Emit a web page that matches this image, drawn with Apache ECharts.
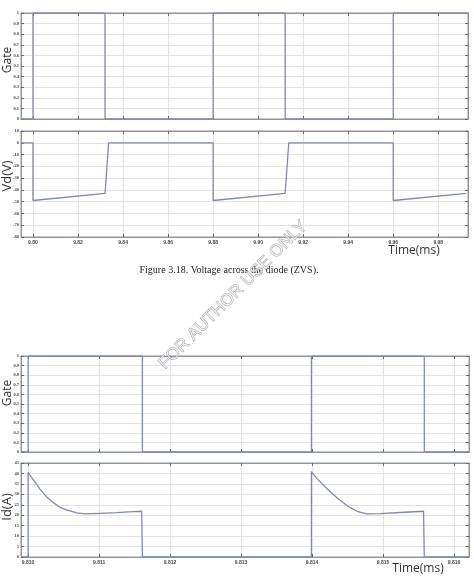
<!DOCTYPE html>
<html><head><meta charset="utf-8">
<script src="https://cdn.jsdelivr.net/npm/echarts@6/dist/echarts.min.js"></script>
<style>html,body{margin:0;padding:0;background:#fff}#c{width:474px;height:578px}</style>
</head><body><div id="c"></div>
<script>
// ---------- Figure 3.18 (upper): time measured in tick units ----------
const topTimeTicks = [0, 1, 2, 3, 4, 5, 6, 7, 8, 9];
const topTimeLabels = ["9.80", "9.82", "9.84", "9.86", "9.88", "9.90", "9.92", "9.94", "9.96", "9.98"];
const topGateT = [-0.27, 0, 0, 1.6, 1.6, 4, 4, 5.6, 5.6, 8, 8, 9.67];
const topGateV = [0, 0, 1, 1, 0, 0, 1, 1, 0, 0, 1, 1];
const topVdT = [-0.27, 0, 0, 1.6, 1.68, 4, 4, 5.6, 5.68, 8, 8, 9.62];
const topVdV = [0, 0, -49, -43, 0, 0, -49, -43, 0, 0, -49, -43];

// ---------- Lower figure ----------
const botTimeTicks = [0, 1, 2, 3, 4, 5, 6];
const botTimeLabels = ["9.810", "9.811", "9.812", "9.813", "9.814", "9.815", "9.816"];
const botGateT = [-0.1, 0, 0, 1.61, 1.61, 3.99, 3.99, 5.58, 5.58, 6.21];
const botGateV = [0, 0, 1, 1, 0, 0, 1, 1, 0, 0];
const botIdT = [-0.1, 0, 0, 0.075, 0.17, 0.26, 0.36, 0.45, 0.55, 0.69, 0.80, 1.01, 1.25, 1.48, 1.60, 1.61,
                3.99, 3.99, 4.07, 4.21, 4.35, 4.49, 4.63, 4.77, 4.96, 5.24, 5.57, 5.58, 6.21];
const botIdV = [0, 0, 40.4, 36.9, 32.4, 28.8, 25.9, 23.8, 22.4, 21.1, 20.6, 20.9, 21.2, 21.7, 21.9, 0,
                0, 40.9, 37.5, 32.7, 28.4, 24.6, 21.9, 20.6, 20.8, 21.3, 21.9, 0, 0];

// ---------- tick labels ----------
const gateTickLabels = ["0", "0.1", "0.2", "0.3", "0.4", "0.5", "0.6", "0.7", "0.8", "0.9", "1"];
const vdTickLabels = ["-80", "-70", "-60", "-50", "-40", "-30", "-20", "-10", "0", "10"];
const idTickLabels = ["0", "5", "10", "15", "20", "25", "30", "35", "40", "45"];

const TXT = {
  caption: "Figure 3.18. Voltage across the diode (ZVS).",
  time: "Time(ms)",
  watermark: "FOR AUTHOR USE ONLY"
};

function zip(t, v) { return t.map((x, i) => [x, v[i]]); }

const LINE = '#8088b6';
const BOX = '#8f93a6';
const GRIDC = '#e2e2e2';

const panels = [
  { grid: { left: 21, top: 13, width: 447, height: 106 }, xmin: -0.266, xmax: 9.66, ticks: topTimeTicks, xl: topTimeLabels, showX: false,
    ymin: 0, ymax: 1, yint: 0.1, yl: v => gateTickLabels[Math.round(v * 10)], name: 'Gate', nameSize: 12, nameY: 60, data: zip(topGateT, topGateV) },
  { grid: { left: 21, top: 131, width: 447, height: 106 }, xmin: -0.266, xmax: 9.66, ticks: topTimeTicks, xl: topTimeLabels, showX: true,
    ymin: -80, ymax: 10, yint: 10, yl: v => vdTickLabels[Math.round((v + 80) / 10)], name: 'Vd(V)', nameSize: 13, nameY: 176, data: zip(topVdT, topVdV) },
  { grid: { left: 21, top: 356, width: 448, height: 96 }, xmin: -0.1, xmax: 6.21, ticks: botTimeTicks, xl: botTimeLabels, showX: false,
    ymin: 0, ymax: 1, yint: 0.1, yl: v => gateTickLabels[Math.round(v * 10)], name: 'Gate', nameSize: 12, nameY: 393, data: zip(botGateT, botGateV) },
  { grid: { left: 21, top: 463, width: 448, height: 94 }, xmin: -0.1, xmax: 6.21, ticks: botTimeTicks, xl: botTimeLabels, showX: true,
    ymin: 0, ymax: 45, yint: 5, yl: v => idTickLabels[Math.round(v / 5)], name: 'Id(A)', nameSize: 13, nameY: 507, data: zip(botIdT, botIdV) }
];

const grids = [], xAxes = [], yAxes = [], series = [], names = [];
panels.forEach((p, i) => {
  grids.push(Object.assign({ show: true, borderColor: BOX, borderWidth: 1, backgroundColor: '#fff',
    containLabel: false, outerBoundsMode: 'none' }, p.grid));
  const tickCommon = { show: true, inside: true, length: 3, lineStyle: { color: '#666', width: 1 } };
  xAxes.push({
    gridIndex: i, type: 'value', min: p.xmin, max: p.xmax, position: 'bottom',
    axisLine: { show: true, onZero: false, lineStyle: { color: BOX } },
    axisTick: Object.assign({ customValues: p.ticks }, tickCommon),
    axisLabel: { show: p.showX, customValues: p.ticks, formatter: v => p.xl[p.ticks.indexOf(Math.round(v))] || '',
      fontSize: 5, fontWeight: 'bold', color: '#444', margin: 3, fontFamily: 'Liberation Sans' },
    splitLine: { show: true, lineStyle: { color: GRIDC, width: 1 } }
  });
  xAxes.push({
    gridIndex: i, type: 'value', min: p.xmin, max: p.xmax, position: 'top',
    axisLine: { show: true, onZero: false, lineStyle: { color: BOX } },
    axisTick: Object.assign({ customValues: p.ticks }, tickCommon),
    axisLabel: { show: false, customValues: p.ticks }, splitLine: { show: false }
  });
  yAxes.push({
    gridIndex: i, type: 'value', min: p.ymin, max: p.ymax, interval: p.yint, position: 'left',
    axisLine: { show: true, onZero: false, lineStyle: { color: BOX } },
    axisTick: tickCommon,
    axisLabel: { show: true, formatter: p.yl, fontSize: 4.5, fontWeight: 'bold', color: '#444', margin: 2, fontFamily: 'Liberation Sans Narrow' },
    splitLine: { show: true, lineStyle: { color: GRIDC, width: 1 } }
  });
  yAxes.push({
    gridIndex: i, type: 'value', min: p.ymin, max: p.ymax, interval: p.yint, position: 'right',
    axisLine: { show: true, onZero: false, lineStyle: { color: BOX } },
    axisTick: tickCommon, axisLabel: { show: false }, splitLine: { show: false }
  });
  series.push({
    type: 'line', xAxisIndex: 2 * i, yAxisIndex: 2 * i, data: p.data, showSymbol: false, symbol: 'none',
    lineStyle: { color: LINE, width: 1.3 }, z: 5, clip: true
  });
  names.push({ type: 'text', x: 7.5, y: p.nameY, rotation: Math.PI / 2, z: 10,
    style: { text: p.name, fontSize: p.nameSize, fontFamily: 'Open Sans', fill: '#333',
      align: 'center', verticalAlign: 'middle', textAlign: 'center', textVerticalAlign: 'middle' } });
});

const chart = echarts.init(document.getElementById('c'), null, { renderer: 'canvas' });
chart.setOption({
  animation: false,
  backgroundColor: '#fff',
  grid: grids, xAxis: xAxes, yAxis: yAxes, series: series,
  graphic: names.concat([
    { type: 'text', x: 414, y: 251, z: 10, style: { text: TXT.time, fontSize: 12, fontFamily: 'Open Sans', fill: '#333',
      align: 'center', verticalAlign: 'middle', textAlign: 'center', textVerticalAlign: 'middle' } },
    { type: 'text', x: 418, y: 569, z: 10, style: { text: TXT.time, fontSize: 12, fontFamily: 'Open Sans', fill: '#333',
      align: 'center', verticalAlign: 'middle', textAlign: 'center', textVerticalAlign: 'middle' } },
    { type: 'text', x: 229, y: 270, z: 10, style: { text: TXT.caption, fontSize: 10, fontFamily: 'Liberation Serif', fill: '#222',
      align: 'center', verticalAlign: 'middle', textAlign: 'center', textVerticalAlign: 'middle' } },
    { type: 'text', x: 233, y: 295, rotation: Math.PI / 4, z: 20, style: { text: TXT.watermark, fontSize: 17, fontFamily: 'Liberation Sans',
      fill: 'rgba(255,255,255,0.6)', stroke: '#9a9a9a', lineWidth: 0.8,
      align: 'center', verticalAlign: 'middle', textAlign: 'center', textVerticalAlign: 'middle' } }
  ])
});
</script></body></html>
